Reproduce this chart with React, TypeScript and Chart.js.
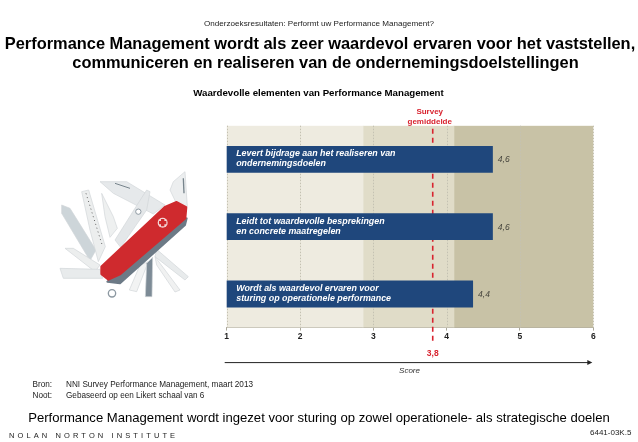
import { useEffect, useRef } from "react";
import type { CSSProperties } from "react";
import { Chart, registerables } from "chart.js";

Chart.register(...registerables);

const categories = [
  ["Levert bijdrage aan het realiseren van", "ondernemingsdoelen"],
  ["Leidt tot waardevolle besprekingen", "en concrete maatregelen"],
  ["Wordt als waardevol ervaren voor", "sturing op operationele performance"],
];
const scores = [4.63, 4.63, 4.36];
const scoreLabels = ["4,6", "4,6", "4,4"];
const bandRanges: [number, number][] = [[1, 2.86], [2.86, 4.1], [4.1, 6]];
const bandColors = ["#eeebe0", "#e0dcc8", "#c8c2a6"];
const surveyMean = 3.81;
const surveyMeanLabel = "3,8";

const FONT = '"Liberation Sans", Arial, sans-serif';

const drawBackdrop = {
  id: "backdrop",
  beforeDatasetDraw(chart: any, args: any) {
    if (args.meta.label !== "Score") return;
    const { ctx, chartArea, scales } = chart;
    ctx.save();
    // dotted grid sits on top of the bands, under the bars
    ctx.strokeStyle = "#c4c1b2";
    ctx.setLineDash([1.5, 1.5]);
    ctx.lineWidth = 1;
    scales.x.ticks.forEach((t: any) => {
      const x = Math.round(scales.x.getPixelForValue(t.value)) + 0.5;
      ctx.beginPath();
      ctx.moveTo(x, chartArea.top);
      ctx.lineTo(x, chartArea.bottom);
      ctx.stroke();
    });
    const mx = scales.x.getPixelForValue(surveyMean);
    ctx.strokeStyle = "#d8232f";
    ctx.lineWidth = 1.6;
    ctx.setLineDash([5, 4]);
    ctx.beginPath();
    ctx.moveTo(mx, chartArea.top + 3);
    ctx.lineTo(mx, chartArea.bottom + 14);
    ctx.stroke();
    ctx.restore();
  },
  afterDatasetsDraw(chart: any) {
    const { ctx, chartArea, scales } = chart;
    const meta = chart.getDatasetMeta(0);
    const left = scales.x.getPixelForValue(1);
    const right = scales.x.getPixelForValue(6);
    const mx = scales.x.getPixelForValue(surveyMean);
    ctx.save();
    ctx.textBaseline = "middle";
    meta.data.forEach((bar: any, i: number) => {
      ctx.textAlign = "left";
      ctx.fillStyle = "#ffffff";
      ctx.font = `italic bold 8.9px ${FONT}`;
      ctx.fillText(categories[i][0], left + 9.5, bar.y - 5.5);
      ctx.fillText(categories[i][1], left + 9.5, bar.y + 4.5);
      ctx.fillStyle = "#45443c";
      ctx.font = `italic 8.5px ${FONT}`;
      ctx.fillText(scoreLabels[i], bar.x + 5, bar.y + 0.5);
    });
    ctx.textAlign = "center";
    ctx.fillStyle = "#d8232f";
    ctx.font = `bold 8px ${FONT}`;
    ctx.fillText("Survey", mx - 3, chartArea.top - 13.5);
    ctx.fillText("gemiddelde", mx - 3, chartArea.top - 4);
    ctx.font = `bold 8.5px ${FONT}`;
    ctx.fillText(surveyMeanLabel, mx, chartArea.bottom + 26);
    // score arrow under the axis
    const ay = chartArea.bottom + 35;
    ctx.strokeStyle = "#222222";
    ctx.fillStyle = "#222222";
    ctx.lineWidth = 1;
    ctx.beginPath();
    ctx.moveTo(left - 2, ay);
    ctx.lineTo(right - 4, ay);
    ctx.stroke();
    ctx.beginPath();
    ctx.moveTo(right - 1, ay);
    ctx.lineTo(right - 6, ay - 2.5);
    ctx.lineTo(right - 6, ay + 2.5);
    ctx.closePath();
    ctx.fill();
    ctx.fillStyle = "#333333";
    ctx.font = `italic 8px ${FONT}`;
    ctx.fillText("Score", (left + right) / 2 - 0.5, ay + 8);
    ctx.restore();
  },
};

function Label({ x, y, size, style, children }: { x: number; y: number; size: number; style?: CSSProperties; children: string }) {
  return (
    <div style={{ position: "absolute", left: x, top: y - size, lineHeight: `${size * 2}px`, fontSize: size, whiteSpace: "nowrap", ...style }}>
      {children}
    </div>
  );
}

function Centered({ y, size, style, cx = 319, children }: { y: number; size: number; style?: CSSProperties; cx?: number; children: string }) {
  return (
    <Label x={cx} y={y} size={size} style={{ transform: "translateX(-50%)", ...style }}>
      {children}
    </Label>
  );
}

function Knife() {
  const blades = [
    { p: "95,165 120,175 198,300 180,332 95,190", c: "#cdd5d9" },
    { p: "155,125 176,120 226,290 205,335 180,240", c: "#eceeee" },
    { p: "215,130 250,200 262,235 240,262 225,200", c: "#eef0f0" },
    { p: "210,95 290,95 405,165 370,192 250,130", c: "#e6e9eb" },
    { p: "350,120 360,125 350,180 272,292 255,270 318,170", c: "#e4e7e9" },
    { p: "430,95 465,65 472,170 445,172 420,120", c: "#eceeef" },
    { p: "105,295 130,295 210,345 195,365", c: "#eceeee" },
    { p: "90,355 210,358 218,385 100,385", c: "#e8ebec" },
    { p: "380,298 475,380 465,390 375,320", c: "#e8ebec" },
    { p: "375,320 450,420 435,426 380,345", c: "#f0f1f1" },
    { p: "330,345 355,335 320,425 298,420", c: "#f2f3f3" },
    { p: "350,340 368,322 366,440 346,440", c: "#7d8b96" },
  ];
  return (
    <svg width={180} height={160} viewBox="0 0 540 480" style={{ position: "absolute", left: 30, top: 150 }}>
      {blades.map((b) => (
        <polygon key={b.p} points={b.p} fill={b.c} stroke="#d0d5d8" strokeWidth={2} strokeLinejoin="round" />
      ))}
      <path d="M168 130L218 290" stroke="#666" strokeWidth={3} strokeDasharray="3 9" fill="none" />
      <path d="M255 100L300 115" stroke="#77848c" strokeWidth={3} fill="none" />
      <path d="M460 85L462 130" stroke="#77848c" strokeWidth={4} fill="none" />
      <circle cx={325} cy={185} r={8} fill="#fff" stroke="#8c98a1" strokeWidth={3} />
      <polygon points="232,395 410,232 470,205 465,225 270,400" fill="#6c7a86" stroke="#6c7a86" strokeWidth={6} strokeLinejoin="round" />
      <circle cx={246} cy={430} r={11} fill="none" stroke="#8c98a1" strokeWidth={4} />
      <polygon points="215,350 405,172 440,157 468,172 465,205 270,372 235,388 215,372" fill="#cf2a2e" stroke="#cf2a2e" strokeWidth={8} strokeLinejoin="round" />
      <circle cx={398} cy={218} r={15} fill="#f3d5d5" />
      <path d="M393 207h10v6h6v10h-6v6h-10v-6h-6v-10h6z" fill="#cf2a2e" />
    </svg>
  );
}

export default function App() {
  const chartRef = useRef<HTMLCanvasElement>(null);

  useEffect(() => {
    document.body.style.margin = "0";
    if (!chartRef.current) return;

    const bandSets = bandRanges.map((range, i) => ({
      label: "band" + i,
      data: [range],
      yAxisID: "yBands",
      backgroundColor: bandColors[i],
      barPercentage: 1,
      categoryPercentage: 1,
      grouped: false,
      order: 2 + i,
    }));

    const chart = new Chart(chartRef.current, {
      type: "bar",
      data: {
        labels: categories.map((c) => c.join(" ")),
        datasets: [
          {
            label: "Score",
            data: scores,
            yAxisID: "y",
            backgroundColor: "#1f477c",
            barPercentage: 0.4,
            categoryPercentage: 1,
            grouped: false,
            order: 1,
          },
          ...bandSets,
        ] as any,
      },
      options: {
        indexAxis: "y",
        responsive: false,
        animation: false,
        layout: { padding: { left: 226.7, right: 44.7, top: 125.7, bottom: 99.2 } },
        plugins: { legend: { display: false }, tooltip: { enabled: false } },
        scales: {
          x: {
            min: 1,
            max: 6,
            ticks: {
              stepSize: 1,
              maxRotation: 0,
              padding: 1,
              color: "#222222",
              font: { family: FONT, size: 8.5, weight: "bold" },
            },
            grid: { drawOnChartArea: false, tickLength: 3, color: "#aaa79a" },
            border: { color: "#aaa79a", width: 1 },
          },
          y: { display: false },
          yBands: { axis: "y", type: "category", labels: ["band"], display: false },
        },
      },
      plugins: [drawBackdrop],
    } as any);

    return () => {
      chart.destroy();
    };
  }, []);

  return (
    <div style={{ position: "fixed", left: 0, top: 0, width: 638, height: 442, background: "#fff", overflow: "hidden", fontFamily: FONT, color: "#000" }}>
      <canvas ref={chartRef} width={638} height={442} style={{ position: "absolute", left: 0, top: 0 }} />
      <Knife />
      <Centered y={24.5} size={8.1} style={{ color: "#222" }}>Onderzoeksresultaten: Performt uw Performance Management?</Centered>
      <Centered y={43.5} size={16.4} cx={320} style={{ fontWeight: "bold" }}>Performance Management wordt als zeer waardevol ervaren voor het vaststellen,</Centered>
      <Centered y={62.8} size={16.4} cx={325.5} style={{ fontWeight: "bold" }}>communiceren en realiseren van de ondernemingsdoelstellingen</Centered>
      <Centered y={92.5} size={9.7} cx={318.5} style={{ fontWeight: "bold" }}>Waardevolle elementen van Performance Management</Centered>
      <Label x={32.5} y={385.5} size={8.2} style={{ color: "#222" }}>Bron:</Label>
      <Label x={66} y={385.5} size={8.2} style={{ color: "#222" }}>NNI Survey Performance Management, maart 2013</Label>
      <Label x={32.5} y={396} size={8.2} style={{ color: "#222" }}>Noot:</Label>
      <Label x={66} y={396} size={8.2} style={{ color: "#222" }}>Gebaseerd op een Likert schaal van 6</Label>
      <Centered y={418} size={13.1} cx={319}>Performance Management wordt ingezet voor sturing op zowel operationele- als strategische doelen</Centered>
      <Label x={9} y={435} size={7.5} style={{ letterSpacing: "3.1px", color: "#222" }}>NOLAN NORTON INSTITUTE</Label>
      <Label x={590} y={433} size={8} style={{ color: "#222" }}>6441-03K.5</Label>
    </div>
  );
}
